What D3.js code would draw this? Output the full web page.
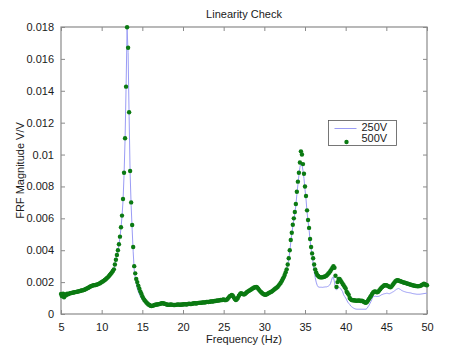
<!DOCTYPE html>
<html>
<head>
<meta charset="utf-8">
<script src="https://cdn.jsdelivr.net/npm/d3@7/dist/d3.min.js"></script>
<style>
  html, body { margin: 0; padding: 0; background: #fff; }
  svg { display: block; font-family: "Liberation Sans", Arial, Helvetica, sans-serif; }
</style>
</head>
<body>
<div id="chart"></div>
<script>
// Frequency sampling grid of the measurement (Hz)
const freqStart = 5;
const freqStep = 0.125;

// FRF magnitude (V/V), 500 V drive, one row per Hz (5 ... 50 Hz)
const mag500 = [
  0.00125, 0.00112, 0.00128, 0.00105, 0.00122, 0.00118, 0.00127, 0.00124,
  0.00128, 0.0013, 0.00131, 0.00133, 0.00134, 0.00136, 0.00137, 0.00139,
  0.0014, 0.00142, 0.00143, 0.00145, 0.00147, 0.00148, 0.0015, 0.00152,
  0.00155, 0.00158, 0.00162, 0.00165, 0.00169, 0.00173, 0.00176, 0.00178,
  0.0018, 0.00181, 0.00182, 0.00184, 0.00186, 0.00189, 0.00192, 0.00196,
  0.002, 0.00204, 0.00208, 0.00213, 0.00218, 0.00224, 0.0023, 0.00237,
  0.00245, 0.00252, 0.0026, 0.0027, 0.0028, 0.0031, 0.0034, 0.0037,
  0.004, 0.00437, 0.00485, 0.00544, 0.00617, 0.00721, 0.00886, 0.01102,
  0.01426, 0.01798, 0.0167, 0.01265, 0.00897, 0.007, 0.00558, 0.0042,
  0.003, 0.00255, 0.0022, 0.002, 0.00178, 0.0016, 0.00142, 0.00128,
  0.00112, 0.00098, 0.00088, 0.0008, 0.00072, 0.00066, 0.0006, 0.00056,
  0.00052, 0.0005, 0.00051, 0.00054, 0.00056, 0.00058, 0.0006, 0.0006,
  0.00062, 0.00063, 0.00065, 0.00067, 0.00068, 0.00066, 0.00064, 0.00062,
  0.0006, 0.00058, 0.00057, 0.00058, 0.0006, 0.00059, 0.00057, 0.00056,
  0.00056, 0.00057, 0.00059, 0.0006, 0.00059, 0.00058, 0.00058, 0.0006,
  0.0006, 0.00061, 0.00062, 0.0006, 0.00061, 0.00063, 0.00064, 0.00063,
  0.00062, 0.00064, 0.00066, 0.00068, 0.00067, 0.00066, 0.00068, 0.0007,
  0.0007, 0.00071, 0.0007, 0.00072, 0.00073, 0.00072, 0.00073, 0.00075,
  0.00076, 0.00075, 0.00076, 0.00078, 0.00079, 0.00078, 0.0008, 0.00082,
  0.00082, 0.00083, 0.00085, 0.00084, 0.00086, 0.00088, 0.00087, 0.00089,
  0.00092, 0.00088, 0.00087, 0.0009, 0.00096, 0.00104, 0.00112, 0.00115,
  0.0012, 0.00114, 0.00104, 0.00094, 0.00088, 0.00092, 0.00102, 0.00114,
  0.00124, 0.0013, 0.00128, 0.00125, 0.00122, 0.00126, 0.00132, 0.00138,
  0.00142, 0.00146, 0.0015, 0.00154, 0.00158, 0.00162, 0.00166, 0.00168,
  0.0017, 0.00166, 0.00158, 0.0015, 0.00142, 0.00136, 0.0013, 0.00125,
  0.00122, 0.0012, 0.00122, 0.00126, 0.0013, 0.00134, 0.00137, 0.0014,
  0.00145, 0.0015, 0.00155, 0.0016, 0.00165, 0.0017, 0.00178, 0.00186,
  0.00195, 0.00205, 0.00218, 0.0023, 0.00245, 0.00262, 0.0028, 0.0031,
  0.0035, 0.004, 0.00464, 0.0051, 0.0056, 0.006, 0.0064, 0.0069,
  0.00767, 0.0083, 0.00886, 0.0095, 0.0102, 0.01, 0.0094, 0.0088,
  0.008, 0.0074, 0.0065, 0.0059, 0.0054, 0.0047, 0.0042, 0.0038,
  0.0035, 0.0031, 0.0028, 0.0026, 0.00245, 0.00238, 0.00232, 0.0023,
  0.0023, 0.0023, 0.00232, 0.00234, 0.00236, 0.0024, 0.00246, 0.00254,
  0.0026, 0.0027, 0.0028, 0.0029, 0.003, 0.0029, 0.0024, 0.0017,
  0.002, 0.0022, 0.0022, 0.0021, 0.002, 0.0019, 0.0018, 0.0017,
  0.0016, 0.0014, 0.0013, 0.0012, 0.001, 0.00092, 0.00088, 0.00086,
  0.00086, 0.00085, 0.00084, 0.00083, 0.00084, 0.00085, 0.00083, 0.00082,
  0.00083, 0.0008, 0.00076, 0.00072, 0.00071, 0.00076, 0.00085, 0.00095,
  0.00105, 0.00115, 0.00125, 0.00135, 0.0014, 0.00142, 0.00138, 0.00136,
  0.0014, 0.00148, 0.00156, 0.00164, 0.0017, 0.00175, 0.0018, 0.0018,
  0.0018, 0.00178, 0.00175, 0.0017, 0.00168, 0.00172, 0.0018, 0.0019,
  0.00198, 0.00205, 0.0021, 0.00212, 0.0021, 0.00207, 0.00205, 0.00203,
  0.002, 0.00198, 0.00196, 0.00195, 0.00192, 0.0019, 0.00188, 0.00186,
  0.00184, 0.00182, 0.0018, 0.00178, 0.00177, 0.00176, 0.00175, 0.00174,
  0.00175, 0.00176, 0.00178, 0.00182, 0.00186, 0.0019, 0.00186, 0.00182,
  0.0018
];

// FRF magnitude (V/V), 250 V drive, same grid
const mag250 = [
  0.00122, 0.00122, 0.00123, 0.00124, 0.00125, 0.00125, 0.00126, 0.00127,
  0.00128, 0.0013, 0.00131, 0.00133, 0.00134, 0.00136, 0.00137, 0.00139,
  0.0014, 0.00142, 0.00143, 0.00145, 0.00147, 0.00148, 0.0015, 0.00152,
  0.00155, 0.00158, 0.00162, 0.00165, 0.00169, 0.00173, 0.00176, 0.00178,
  0.0018, 0.00181, 0.00182, 0.00184, 0.00186, 0.00189, 0.00192, 0.00196,
  0.002, 0.00204, 0.00208, 0.00213, 0.00218, 0.00224, 0.0023, 0.00237,
  0.00245, 0.00252, 0.0026, 0.0027, 0.0028, 0.0031, 0.0034, 0.0037,
  0.004, 0.00435, 0.0048, 0.0054, 0.0061, 0.0071, 0.0087, 0.0109,
  0.0142, 0.0179, 0.0164, 0.0124, 0.0088, 0.0068, 0.0053, 0.0039,
  0.0028, 0.0023, 0.0019, 0.0016, 0.0014, 0.00125, 0.0011, 0.001,
  0.0009, 0.00082, 0.00075, 0.0007, 0.00066, 0.00062, 0.00058, 0.00055,
  0.00052, 0.0005, 0.00051, 0.00054, 0.00056, 0.00058, 0.0006, 0.0006,
  0.00062, 0.00063, 0.00065, 0.00067, 0.00068, 0.00066, 0.00064, 0.00062,
  0.0006, 0.00058, 0.00057, 0.00058, 0.0006, 0.00059, 0.00057, 0.00056,
  0.00056, 0.00057, 0.00059, 0.0006, 0.00059, 0.00058, 0.00058, 0.0006,
  0.0006, 0.00061, 0.00062, 0.0006, 0.00061, 0.00063, 0.00064, 0.00063,
  0.00062, 0.00064, 0.00066, 0.00068, 0.00067, 0.00066, 0.00068, 0.0007,
  0.0007, 0.00071, 0.0007, 0.00072, 0.00073, 0.00072, 0.00073, 0.00075,
  0.00076, 0.00075, 0.00076, 0.00078, 0.00079, 0.00078, 0.0008, 0.00082,
  0.00082, 0.00083, 0.00085, 0.00084, 0.00086, 0.00088, 0.00087, 0.00089,
  0.00092, 0.00088, 0.00087, 0.0009, 0.00096, 0.00104, 0.00112, 0.00115,
  0.0012, 0.00114, 0.00104, 0.00094, 0.00088, 0.00092, 0.00102, 0.00114,
  0.00124, 0.0013, 0.00128, 0.00125, 0.00122, 0.00126, 0.00132, 0.00138,
  0.00142, 0.00146, 0.0015, 0.00154, 0.00158, 0.00162, 0.00166, 0.00168,
  0.0017, 0.00166, 0.00158, 0.0015, 0.00142, 0.00136, 0.0013, 0.00125,
  0.00122, 0.0012, 0.00122, 0.00126, 0.0013, 0.00134, 0.00137, 0.0014,
  0.00145, 0.0015, 0.00155, 0.0016, 0.00165, 0.0017, 0.00178, 0.00186,
  0.00195, 0.00205, 0.00218, 0.0023, 0.00245, 0.00262, 0.0028, 0.0031,
  0.0034, 0.0039, 0.0045, 0.005, 0.0055, 0.0059, 0.0063, 0.0068,
  0.0075, 0.0081, 0.0087, 0.0092, 0.0095, 0.0094, 0.009, 0.0085,
  0.0078, 0.0072, 0.0064, 0.0058, 0.0053, 0.0046, 0.0041, 0.0037,
  0.0032, 0.0027, 0.0023, 0.002, 0.0018, 0.0017, 0.00168, 0.00168,
  0.00168, 0.00167, 0.00168, 0.00169, 0.0017, 0.0017, 0.00172, 0.00175,
  0.0018, 0.0019, 0.0021, 0.0023, 0.0023, 0.002, 0.0016, 0.0015,
  0.0016, 0.0017, 0.00165, 0.0016, 0.0015, 0.0014, 0.0012, 0.0011,
  0.001, 0.00088, 0.00075, 0.00067, 0.0006, 0.0005, 0.00045, 0.0004,
  0.00036, 0.00033, 0.00031, 0.0003, 0.0003, 0.0003, 0.0003, 0.0003,
  0.0003, 0.0003, 0.0003, 0.0003, 0.0003, 0.00035, 0.00045, 0.00055,
  0.00067, 0.0008, 0.00095, 0.0011, 0.0011, 0.00112, 0.0011, 0.0011,
  0.0011, 0.00112, 0.00115, 0.0012, 0.00122, 0.00125, 0.00127, 0.00128,
  0.0013, 0.0013, 0.00128, 0.00127, 0.0013, 0.00133, 0.00137, 0.0014,
  0.00145, 0.0015, 0.00155, 0.00158, 0.0016, 0.00157, 0.00153, 0.00148,
  0.00145, 0.00142, 0.0014, 0.00138, 0.00136, 0.00135, 0.00134, 0.00133,
  0.00132, 0.0013, 0.00128, 0.00127, 0.00126, 0.00125, 0.00124, 0.00124,
  0.00124, 0.00124, 0.00125, 0.00126, 0.00127, 0.00128, 0.00129, 0.0013,
  0.0013
];

const xTicks = [5, 10, 15, 20, 25, 30, 35, 40, 45, 50];
const yTicks = [0, 0.002, 0.004, 0.006, 0.008, 0.01, 0.012, 0.014, 0.016, 0.018];
const seriesNames = ["250V", "500V"];

const W = 474, H = 349;
const margin = { top: 27, right: 47, bottom: 35, left: 61 };
const iw = W - margin.left - margin.right;
const ih = H - margin.top - margin.bottom;

const freq = i => freqStart + i * freqStep;
const rows250 = mag250.map((v, i) => ({ f: freq(i), v }));
const rows500 = mag500.map((v, i) => ({ f: freq(i), v }));

const x = d3.scaleLinear().domain([5, 50]).range([0, iw]);
const y = d3.scaleLinear().domain([0, 0.018]).range([ih, 0]);

const svg = d3.select("#chart").append("svg")
  .attr("width", W).attr("height", H);

const g = svg.append("g").attr("transform", `translate(${margin.left},${margin.top})`);

const axisColor = "#8a8a8a";
const yLabel = d => d === 0 ? "0" : String(+d.toFixed(3));

// Axes with inward ticks on all four sides
function styleAxis(sel) {
  sel.select(".domain").remove();
  sel.selectAll(".tick line").attr("stroke", axisColor);
  sel.selectAll(".tick text").attr("fill", "#1a1a1a").attr("font-size", 11);
}

g.append("g").attr("transform", `translate(0,${ih})`)
  .call(d3.axisBottom(x).tickValues(xTicks).tickSize(-4).tickPadding(9).tickFormat(d3.format("d")))
  .call(styleAxis);
g.append("g")
  .call(d3.axisTop(x).tickValues(xTicks).tickSize(-4).tickFormat(""))
  .call(styleAxis);
g.append("g")
  .call(d3.axisLeft(y).tickValues(yTicks).tickSize(-4).tickPadding(7).tickFormat(yLabel))
  .call(styleAxis);
g.append("g").attr("transform", `translate(${iw},0)`)
  .call(d3.axisRight(y).tickValues(yTicks).tickSize(-4).tickFormat(""))
  .call(styleAxis);

g.append("rect")
  .attr("x", 0).attr("y", 0).attr("width", iw).attr("height", ih)
  .attr("fill", "none").attr("stroke", axisColor).attr("stroke-width", 1.2);

// 250 V response as a thin line
const line = d3.line().x(d => x(d.f)).y(d => y(d.v));
g.append("path")
  .datum(rows250)
  .attr("fill", "none")
  .attr("stroke", "#9a9cf5")
  .attr("stroke-width", 1)
  .attr("d", line);

// 500 V response as dots
const dotColor = "#0b7a12";
g.append("g").selectAll("circle")
  .data(rows500)
  .join("circle")
  .attr("cx", d => x(d.f))
  .attr("cy", d => y(d.v))
  .attr("r", 2.2)
  .attr("fill", dotColor);

// Title and axis labels
svg.append("text")
  .attr("x", margin.left + iw / 2).attr("y", 18)
  .attr("text-anchor", "middle").attr("font-size", 11).attr("fill", "#1a1a1a")
  .text("Linearity Check");
svg.append("text")
  .attr("x", margin.left + iw / 2).attr("y", 343)
  .attr("text-anchor", "middle").attr("font-size", 11).attr("fill", "#1a1a1a")
  .text("Frequency (Hz)");
svg.append("text")
  .attr("transform", `translate(24,${margin.top + ih / 2}) rotate(-90)`)
  .attr("text-anchor", "middle").attr("font-size", 11).attr("fill", "#1a1a1a")
  .text("FRF Magnitude V/V");

// Legend
const lg = svg.append("g").attr("transform", "translate(328.5,120.5)");
lg.append("rect").attr("width", 68).attr("height", 25)
  .attr("fill", "#fff").attr("stroke", "#555").attr("stroke-width", 0.8);
lg.append("line").attr("x1", 6).attr("x2", 28).attr("y1", 8).attr("y2", 8)
  .attr("stroke", "#9a9cf5").attr("stroke-width", 1);
lg.append("circle").attr("cx", 18).attr("cy", 21.5).attr("r", 2.2).attr("fill", dotColor);
lg.selectAll("text.lab").data(seriesNames).join("text")
  .attr("class", "lab")
  .attr("x", 33).attr("y", (d, i) => 10.5 + i * 11.3)
  .attr("font-size", 11).attr("fill", "#1a1a1a")
  .text(d => d);
</script>
</body>
</html>
